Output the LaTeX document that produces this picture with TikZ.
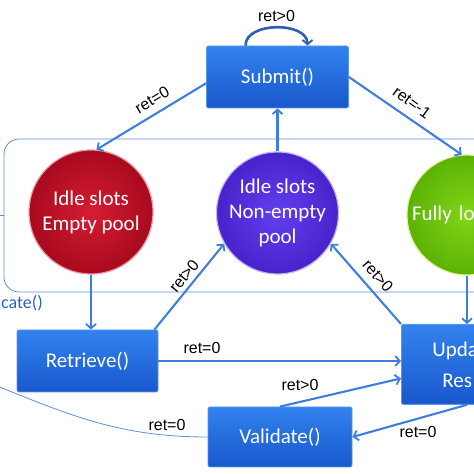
\documentclass[tikz,border=0pt]{standalone}
\usepackage{fontspec}
\setmainfont{Carlito}
\newfontfamily\lblfont{Liberation Sans}
\usetikzlibrary{arrows.meta,calc}

\definecolor{boxtop}{RGB}{50,130,238}
\definecolor{boxbot}{RGB}{24,88,204}
\definecolor{boxedge}{RGB}{90,150,236}
\definecolor{arrowblue}{RGB}{62,126,222}
\definecolor{loopblue}{RGB}{44,94,180}
\definecolor{frameblue}{RGB}{96,142,214}
\definecolor{cateblue}{RGB}{42,98,200}
\definecolor{redin}{RGB}{214,28,50}
\definecolor{redout}{RGB}{168,10,30}
\definecolor{redring}{RGB}{240,150,165}
\definecolor{purin}{RGB}{98,64,238}
\definecolor{purout}{RGB}{72,34,204}
\definecolor{purring}{RGB}{190,180,245}
\definecolor{grnin}{RGB}{128,214,24}
\definecolor{grnout}{RGB}{92,178,4}
\definecolor{grnring}{RGB}{225,240,160}

\begin{document}
\begin{tikzpicture}[x=1pt, y=1pt,
  func/.style={rectangle, rounded corners=2pt, draw=boxedge, line width=0.8pt,
    top color=boxtop, bottom color=boxbot, text=white,
    font=\fontsize{21}{25}\selectfont, minimum width=142pt, minimum height=62pt, inner sep=0pt},
  state/.style={circle, text=white, font=\fontsize{21}{25}\selectfont,
    align=center, inner sep=0pt, line width=1.2pt},
  link/.style={-{Straight Barb[length=4.5pt,width=10pt,line width=1.8pt]}, draw=arrowblue, line width=2.1pt},
  lbl/.style={font=\lblfont\fontsize{16}{18}\selectfont, inner sep=0pt},
  frameline/.style={draw=frameblue, line width=0.8pt}]
\useasboundingbox (0,0) rectangle (474,474);
\clip (0,0) rectangle (474,474);

% group frame
\node[frameline, rectangle, rounded corners=15pt, minimum width=496pt, minimum height=153pt] (alloc) at (252,258.5) {};
\node[font=\fontsize{18}{20}\selectfont, text=cateblue, anchor=base east, inner sep=0pt] (alloclbl) at (43,165) {cate()};

% functions
\node[func] (submit) at (277.5,397) {Submit()};
\node[func, minimum width=141pt] (retrieve) at (87.5,113) {Retrieve()};
\node[func, minimum width=144pt, minimum height=60pt] (validate) at (280,37) {Validate()};
\node[func, anchor=north west, minimum width=162pt, minimum height=80pt, align=left,
  text width=100pt, inner xsep=31pt] (update) at (401,150) {Upda\\[6pt]\hspace*{10pt}Res};

% states
\node[state, minimum size=124pt, inner color=redin, outer color=redout, draw=redring] (empty) at (91,262) {Idle slots\\Empty pool};
\node[state, minimum size=122pt, inner color=purin, outer color=purout, draw=purring] (nonempty) at (277.5,261) {Idle slots\\Non-empty\\pool};
\node[state, minimum size=120pt, inner color=grnin, outer color=grnout, draw=grnring,
  text width=110pt, align=left] (full) at (467,259) {Fully lo};

% transitions
\draw[link, draw=loopblue, line width=2.6pt] ([xshift=-32pt]submit.north) to[out=90,in=90] ([xshift=30pt]submit.north);
\draw[link] (submit.185) -- (empty.85);
\draw[link] (submit.east) -- (full.95);
\draw[link] (nonempty.north) -- (submit.south);
\draw[link] (empty.south) -- (empty.south |- retrieve.north);
\draw[link] ([xshift=-4pt]retrieve.north east) -- (nonempty.210);
\draw[link] (update.north west) -- (nonempty.-30);
\draw[link] (full.south) -- (full.south |- update.north);
\draw[link] (retrieve.east) -- (retrieve.east -| update.west);
\draw[link] (validate.north) -- ([yshift=-14pt]update.west);
\draw[link] ([xshift=66pt]update.south west) -- (validate.east);
\coordinate (back) at (-20,95);
\coordinate (enter) at (-10,258.5);
\draw[frameline] (validate.west) to[out=180,in=-22] (back);
\draw[frameline] (enter) -- (alloc.west);

% labels
\node[lbl] (lloop) at (276.5,458) {ret>0};
\node[lbl, rotate=31] (lempty) at (152,374) {ret=0};
\node[lbl, rotate=-36] (lfull) at (412,371.5) {ret=-1};
\node[lbl, rotate=51] (lretr) at (184,198) {ret>0};
\node[lbl, rotate=-49] (lupd) at (378,198) {ret>0};
\node[lbl] (lru) at (202,126) {ret=0};
\node[lbl] (lvu) at (300,89) {ret>0};
\node[lbl] (luv) at (418,42) {ret=0};
\node[lbl] (lback) at (167,49) {ret=0};
\end{tikzpicture}
\end{document}
